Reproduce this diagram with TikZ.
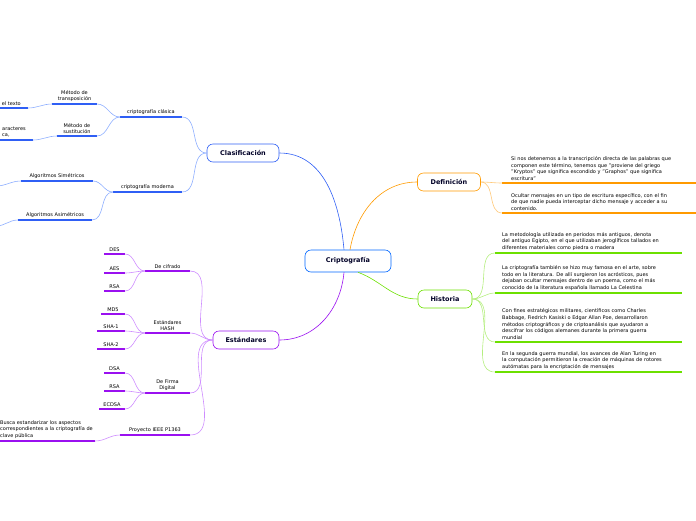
\documentclass[tikz,border=0pt]{standalone}
\usepackage{fontspec}
\setmainfont{DejaVu Sans}
\hyphenpenalty=10000
\exhyphenpenalty=10000
\begin{document}
\begin{tikzpicture}[x=1pt,y=-1pt,
  main/.style={draw,rounded corners=6pt,line width=0.6pt,font=\bfseries\fontsize{6.5}{8}\selectfont,text=black!85!blue,inner sep=0,minimum height=18pt},
  lab/.style={anchor=south,inner xsep=0,inner ysep=2pt,align=center,font=\fontsize{5}{6}\selectfont},
  par/.style={anchor=south west,inner xsep=0,inner ysep=2.5pt,align=left,font=\fontsize{5}{6.6}\selectfont},
  ul/.style={line width=1.4pt},
  cn/.style={line width=0.6pt}]
\definecolor{bl}{HTML}{2F5FF5}\definecolor{blc}{HTML}{8DAEFF}
\definecolor{or}{HTML}{FF9A00}\definecolor{orc}{HTML}{FFC97A}
\definecolor{gr}{HTML}{6CE000}\definecolor{grc}{HTML}{B5EE80}
\definecolor{pu}{HTML}{9A10F0}\definecolor{puc}{HTML}{CE8CFF}
\useasboundingbox (0,0) rectangle (696,520);
% main nodes
\node[main,draw=blue!60!cyan,minimum width=86pt,minimum height=22pt] (cr) at (348,261) {Criptografía};
\node[main,draw=bl,minimum width=72pt] (cl) at (243,153) {Clasificación};
\node[main,draw=or,minimum width=63pt] (de) at (449,182) {Definición};
\node[main,draw=gr,minimum width=54pt] (hi) at (445,299) {Historia};
\node[main,draw=pu,minimum width=66pt] (es) at (246,340) {Estándares};
\draw[cn,bl] (cr.north)++(-4,0) coordinate (c1) (c1) to[out=95,in=0] (cl.east);
\draw[cn,or] (cr.north)++(2,0) coordinate (c2) (c2) to[out=80,in=180] (de.west);
\draw[cn,gr] (cr.south)++(10,0) coordinate (c3) (c3) to[out=-20,in=180] (hi.west);
\draw[cn,pu] (cr.south)++(-4,0) coordinate (c4) (c4) to[out=-95,in=0] (es.east);
% Clasificacion
\newcommand{\leaf}[6]{% name,color,x1,x2,y,text
  \node[lab,text width=#4-#3] (#1) at ({(#3+#4)/2},#5) {#6};
  \draw[ul,#2] (#3,#5) -- (#4,#5);
  \coordinate (#1W) at (#3,#5); \coordinate (#1E) at (#4,#5);}
\leaf{ccl}{bl}{120}{182}{117}{criptografía clásica}
\leaf{cmo}{bl}{113}{182}{192}{criptografía moderna}
\leaf{mtr}{bl}{52}{97}{104}{Método de\\transposición}
\leaf{msu}{bl}{57}{97}{136}{Método de\\sustitución}
\leaf{asi}{bl}{21}{93}{181}{Algoritmos Simétricos}
\leaf{aas}{bl}{18}{92}{220}{Algoritmos Asimétricos}
\draw[ul,bl] (0,108) -- (28,108); \node[par,anchor=south east] (l1) at (21,108) {el texto};
\draw[ul,bl] (0,140) -- (33,140); \node[par,anchor=south east] (l2) at (26,140) {aracteres\\ca,};
\foreach \a/\b in {cl.west/cclE,cl.west/cmoE,cclW/mtrE,cclW/msuE,cmoW/asiE,cmoW/aasE}
  \draw[cn,blc] (\a) to[out=180,in=0] (\b);
\draw[cn,blc] (mtrW) to[out=180,in=0] (28,108);
\draw[cn,blc] (msuW) to[out=180,in=0] (33,140);
\draw[cn,blc] (asiW) to[out=180,in=0] (-4,186);
\draw[cn,blc] (aasW) to[out=180,in=0] (-4,226);
% Definicion
\draw[ul,or] (502,183) coordinate (d1) -- (696,183);
\node[par,text width=172pt] (dt1) at (511,183) {Si nos detenemos a la transcripción directa de las palabras que componen este término, tenemos que "proviene del griego "Kryptos" que significa escondido y "Graphos" que significa escritura"};
\draw[ul,or] (502,213) coordinate (d2) -- (696,213);
\node[par,text width=172pt] (dt2) at (511,213) {Ocultar mensajes en un tipo de escritura específico, con el fin de que nadie pueda interceptar dicho mensaje y acceder a su contenido.};
\draw[cn,orc] (de.east) to[out=0,in=180] (d1);
\draw[cn,orc] (de.east) to[out=0,in=180] (d2);
% Historia
\foreach \n/\y/\t in {1/253/{La metodología utilizada en periodos más antiguos, denota del antiguo Egipto, en el que utilizaban jeroglíficos tallados en diferentes materiales como piedra o madera},
  2/293/{La criptografía también se hizo muy famosa en el arte, sobre todo en la literatura. De allí surgieron los acrósticos, pues dejaban ocultar mensajes dentro de un poema, como el más conocido de la literatura española llamado La Celestina},
  3/342/{Con fines estratégicos militares, científicos como Charles Babbage, Fiedrich Kasiski o Edgar Allan Poe, desarrollaron métodos criptográficos y de criptoanálisis que ayudaron a descifrar los códigos alemanes durante la primera guerra mundial},
  4/372/{En la segunda guerra mundial, los avances de Alan Turing en la computación permitieron la creación de máquinas de rotores autómatas para la encriptación de mensajes}}{
  \draw[ul,gr] (495,\y) coordinate (h\n) -- (682,\y);
  \node[par,text width=166pt] (ht\n) at (502,\y) {\t};
  \draw[cn,grc] (hi.east) to[out=0,in=180] (h\n);}
% Estandares
\leaf{ci}{pu}{145}{190}{271}{De cifrado}
\leaf{ha}{pu}{145}{190}{333}{Estándares\\HASH}
\leaf{fi}{pu}{145}{190}{393}{De Firma\\Digital}
\leaf{ie}{pu}{120}{190}{435}{Proyecto IEEE P1363}
\leaf{des}{pu}{104}{125}{254}{DES}
\leaf{aes}{pu}{104}{125}{273}{AES}
\leaf{rsa}{pu}{104}{125}{291}{RSA}
\leaf{md}{pu}{101}{125}{314}{MD5}
\leaf{s1}{pu}{97}{125}{331}{SHA-1}
\leaf{s2}{pu}{97}{125}{349}{SHA-2}
\leaf{dsa}{pu}{104}{125}{373}{DSA}
\leaf{rs2}{pu}{104}{125}{391}{RSA}
\leaf{ec}{pu}{99}{125}{409}{ECDSA}
\draw[ul,pu] (0,441) -- (95,441) coordinate (bu);
\node[par,text width=95pt] (bt) at (0,441) {Busca estandarizar los aspectos correspondientes a la criptografía de clave pública};
\foreach \a/\b in {ciW/desE,ciW/aesE,ciW/rsaE,haW/mdE,haW/s1E,haW/s2E,fiW/dsaE,fiW/rs2E,fiW/ecE,ieW/bu}
  \draw[cn,puc] (\a) to[out=180,in=0] (\b);
\foreach \b in {ciE,haE,fiE,ieE}
  \draw[cn,puc] (es.west) to[out=180,in=0] (\b);
\end{tikzpicture}
\end{document}
